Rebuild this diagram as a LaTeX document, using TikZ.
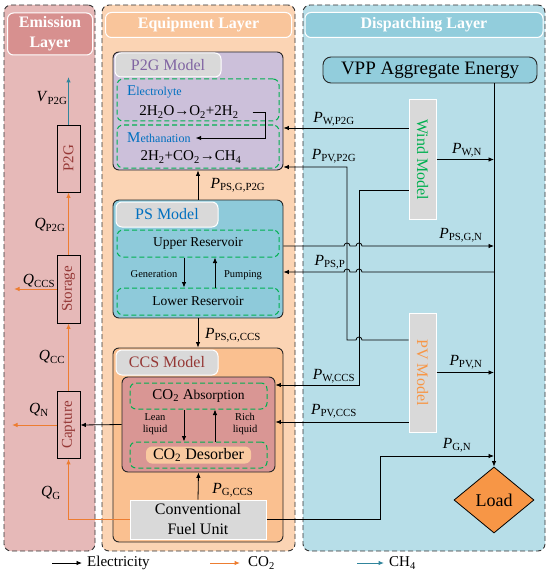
\documentclass[tikz,border=0pt]{standalone}
\usepackage{fontspec}
\setmainfont{Liberation Serif}
\usetikzlibrary{arrows.meta,shapes.geometric}

\definecolor{emisbg}{HTML}{E6B9B8}
\definecolor{emishd}{HTML}{D7908F}
\definecolor{equipbg}{HTML}{FBD4B4}
\definecolor{equiphd}{HTML}{F9C59B}
\definecolor{dispbg}{HTML}{B7DEE8}
\definecolor{disphd}{HTML}{92CDDC}
\definecolor{p2gfill}{HTML}{CCC0DA}
\definecolor{psfill}{HTML}{8ECADA}
\definecolor{ccsfill}{HTML}{FAC090}
\definecolor{ccsinner}{HTML}{D99694}
\definecolor{desfill}{HTML}{F9C9A0}
\definecolor{tabgray}{HTML}{D9D9D9}
\definecolor{dashgreen}{HTML}{00B050}
\definecolor{co2col}{HTML}{ED7D31}
\definecolor{ch4col}{HTML}{31859C}
\definecolor{loadcol}{HTML}{F79646}
\definecolor{darkred}{HTML}{953735}
\definecolor{purp}{HTML}{8064A2}
\definecolor{blu}{HTML}{0070C0}

\newcommand{\fsz}[1]{\fontsize{#1}{#1}\selectfont}
\newcommand{\vsym}[2]{\textit{#1}\textsubscript{#2}}

\tikzset{
  layer/.style={draw=black!80, line width=0.9pt, dash pattern=on 5pt off 3pt,
    rounded corners=7pt, inner sep=0pt, minimum height=546pt},
  header/.style={draw=white, line width=1pt, rounded corners=6pt, inner sep=0pt,
    text=white, font=\fsz{16}\bfseries, align=center},
  model/.style={draw=black!85, line width=0.9pt, rounded corners=6pt, inner sep=0pt,
    minimum width=170pt},
  tab/.style={fill=tabgray, draw=white, line width=1pt, rounded corners=6pt,
    inner sep=0pt, font=\fsz{16}},
  part/.style={draw=dashgreen, line width=1pt, dash pattern=on 5pt off 3pt,
    rounded corners=6pt, inner sep=0pt},
  grayunit/.style={fill=tabgray, draw=white, line width=1pt, inner sep=0pt},
  embox/.style={draw=black, line width=0.9pt, inner sep=0pt, minimum width=23pt,
    minimum height=67pt, text=darkred, font=\fsz{15}},
  elec/.style={draw=black, line width=0.8pt, -{Latex[length=5.5pt,width=4.5pt]}},
  co2/.style={draw=co2col, line width=1pt, -{Latex[length=5.5pt,width=4.5pt]}},
  ch4/.style={draw=ch4col, line width=1pt, -{Latex[length=5.5pt,width=4.5pt]}},
  lbl/.style={inner sep=0pt, font=\fsz{15.5}},
  note/.style={inner sep=0pt, font=\fsz{10.5}, align=center},
}

\begin{document}
\begin{tikzpicture}[x=1pt,y=-1pt]
\useasboundingbox (0,0) rectangle (550,575);

%Layers
\node[layer, fill=emisbg, minimum width=91pt] (emis) at (49.5,278) {};
\node[layer, fill=equipbg, minimum width=193pt] (equip) at (198.5,278) {};
\node[layer, fill=dispbg, minimum width=242pt] (disp) at (424,278) {};
\node[header, fill=emishd, minimum width=85pt, minimum height=42pt] (emishead) at (50,34) {Emission\\[4pt]Layer};
\node[header, fill=equiphd, minimum width=186pt, minimum height=25pt] (equiphead) at (198.5,25) {Equipment Layer};
\node[header, fill=disphd, minimum width=238pt, minimum height=25pt] (disphead) at (424,25) {Dispatching Layer};

%P2G model
\node[model, fill=p2gfill, minimum height=118pt] (p2gm) at (198,111) {};
\node[tab, text=purp, minimum width=106pt, minimum height=24pt] (p2gtab) at (168,65) {P2G Model};
\node[part, minimum width=162pt, minimum height=42pt] (elyz) at (198,100) {};
\node[part, minimum width=162pt, minimum height=43pt] (meth) at (198,146.5) {};
\node[anchor=west, inner sep=0pt, text=blu] (elyzt) at (127,92) {{\fsz{15}E}{\fsz{12}lectrolyte}};
\node[inner sep=0pt, font=\fsz{15}] (elyzr) at (189,112) {2H\textsubscript{2}O→O\textsubscript{2}+2H\textsubscript{2}};
\node[anchor=west, inner sep=0pt, text=blu] (metht) at (127,138) {{\fsz{15}M}{\fsz{12}ethanation}};
\node[inner sep=0pt, font=\fsz{15}] (methr) at (191,157) {2H\textsubscript{2}+CO\textsubscript{2}→CH\textsubscript{4}};
\draw[elec] ([xshift=14pt]elyzr.east) -- ++(13,0) |- ([xshift=5pt]metht.east);

%PS model
\node[model, fill=psfill, minimum height=118pt] (psm) at (198,259) {};
\node[tab, text=blu, minimum width=102pt, minimum height=25pt] (pstab) at (167,214.5) {PS Model};
\node[part, minimum width=162pt, minimum height=27pt, font=\fsz{13.5}] (upres) at (198,243.5) {Upper Reservoir};
\node[part, minimum width=162pt, minimum height=27pt, font=\fsz{13.5}] (lowres) at (198,301.5) {Lower Reservoir};
\draw[elec] ([xshift=-14pt]upres.south) -- ([xshift=-14pt]lowres.north);
\draw[elec] ([xshift=17pt]lowres.north) -- ([xshift=17pt]upres.south);
\node[note] (gen) at (154,274) {Generation};
\node[note] (pump) at (243,275) {Pumping};

%CCS model
\node[model, fill=ccsfill, minimum height=194pt] (ccsm) at (198,445) {};
\node[tab, text=darkred, minimum width=102pt, minimum height=25pt] (ccstab) at (167,362.5) {CCS Model};
\node[model, fill=ccsinner, minimum width=153pt, minimum height=95pt] (ccsin) at (198.5,424.5) {};
\node[part, minimum width=137pt, minimum height=26pt, font=\fsz{15}] (absb) at (198.5,396) {CO\textsubscript{2} A{\fsz{13.5}bsorption}};
\node[part, minimum width=137pt, minimum height=26pt] (desb) at (198.5,455) {};
\node[fill=desfill, rounded corners=6pt, minimum width=105pt, minimum height=17pt, inner sep=0pt, font=\fsz{16}] (dest) at (198.5,455) {CO\textsubscript{2} Desorber};
\draw[elec] ([xshift=-14.5pt]absb.south) -- ([xshift=-14.5pt]desb.north);
\draw[elec] ([xshift=16.5pt]desb.north) -- ([xshift=16.5pt]absb.south);
\node[note] (lean) at (155,424) {Lean\\[1.5pt]liquid};
\node[note] (rich) at (245,424) {Rich\\[1.5pt]liquid};
\node[grayunit, minimum width=136pt, minimum height=39pt, font=\fsz{16}, align=center] (fuel) at (198,519.5) {Conventional\\[4pt]Fuel Unit};

%equipment connectors
\draw[elec] (psm.north) -- (p2gm.south);
\draw[elec] (psm.south) -- (ccsm.north);
\draw[elec] (fuel.north) -- (ccsin.south);
\node[lbl] (lpsgp) at (238,185) {\vsym{P}{PS,G,P2G}};
\node[lbl] (lpsgc) at (233,335) {\vsym{P}{PS,G,CCS}};
\node[lbl] (lgc) at (233,490) {\vsym{P}{G,CCS}};

%Emission layer
\node[embox] (p2g) at (68.5,158.5) {\rotatebox{90}{P2G}};
\node[embox, minimum height=68pt] (stor) at (68.5,289) {\rotatebox{90}{Storage}};
\node[embox] (capt) at (68.5,425) {\rotatebox{90}{Capture}};
\coordinate (vout) at (68.5,77);
\coordinate (ccsout) at (14,289);
\coordinate (nout) at (12,425);
\draw[ch4] (p2g.north) -- (vout);
\draw[co2] (stor.north) -- (p2g.south);
\draw[co2] (stor.west) -- (ccsout);
\draw[co2] (capt.north) -- (stor.south);
\draw[co2] (capt.west) -- (nout);
\draw[co2] (fuel.west) -| (capt.south);
\draw[elec] (ccsin.west) -- (capt.east);
\node[lbl] (lv) at (52,98) {\vsym{V}{P2G}};
\node[lbl] (lqp) at (50,225) {\vsym{Q}{P2G}};
\node[lbl] (lqccs) at (39,281) {\vsym{Q}{CCS}};
\node[lbl] (lqcc) at (52,357) {\vsym{Q}{CC}};
\node[lbl] (lqn) at (39,410) {\vsym{Q}{N}};
\node[lbl] (lqg) at (51,493) {\vsym{Q}{G}};

%Dispatching layer
\node[model, fill=disphd, rounded corners=8pt, minimum width=214pt, minimum height=26pt, font=\fsz{19}] (vpp) at (430,70) {VPP Aggregate Energy};
\node[grayunit, minimum width=27pt, minimum height=119pt, text=dashgreen, font=\fsz{16}] (wind) at (422.5,159.5) {\rotatebox{-90}{Wind Model}};
\node[grayunit, minimum width=27pt, minimum height=119pt, text=loadcol, font=\fsz{16}] (pv) at (422.5,372.5) {\rotatebox{-90}{PV Model}};
\node[diamond, draw=black, line width=0.8pt, fill=loadcol, minimum width=80pt, minimum height=66pt, inner sep=0pt, font=\fsz{18}] (load) at (494,500) {Load};

%dispatching connectors
\draw[elec] (vpp.south -| load.north) -- (load.north);
\draw[elec] (wind.east) -- (wind.east -| load.north);
\draw[elec] (pv.east) -- (pv.east -| load.north);
\draw[elec] (wind.west |- 0,128) -- (p2gm.east |- 0,128);
\draw[elec] (pv.west |- 0,340) -- (362,340) arc[start angle=0,end angle=-180,radius=3] -- (347,340) -- (347,167) -- (p2gm.east |- 0,167);
\draw[elec] (wind.west |- 0,190) -- (359,190) -- (359,385) -- (ccsin.east |- 0,385);
\draw[elec] (psm.east |- 0,246) -- (344,246) arc[start angle=180,end angle=360,radius=3] -- (356,246) arc[start angle=180,end angle=360,radius=3] -- (load.north |- 0,246);
\draw[elec] (load.north |- 0,272) -- (362,272) arc[start angle=0,end angle=-180,radius=3] -- (350,272) arc[start angle=0,end angle=-180,radius=3] -- (psm.east |- 0,272);
\draw[elec] (pv.west |- 0,422) -- (ccsin.east |- 0,422);
\draw[elec] (fuel.east) -| (380,456) -- (load.north |- 0,456);

%labels
\node[lbl] (lwp) at (334,119) {\vsym{P}{W,P2G}};
\node[lbl] (lpvp) at (334,156) {\vsym{P}{PV,P2G}};
\node[lbl] (lwn) at (467,150) {\vsym{P}{W,N}};
\node[lbl] (lpsn) at (461,235) {\vsym{P}{PS,G,N}};
\node[lbl] (lpsp) at (330,262) {\vsym{P}{PS,P}};
\node[lbl] (lwc) at (334,376) {\vsym{P}{W,CCS}};
\node[lbl] (lpvn) at (466,362) {\vsym{P}{PV,N}};
\node[lbl] (lpvc) at (334,411) {\vsym{P}{PV,CCS}};
\node[lbl] (lgn) at (457,445) {\vsym{P}{G,N}};

%legend
\node[anchor=west, inner sep=0pt, font=\fsz{15}] (lgel) at (87,563) {Electricity};
\node[anchor=west, inner sep=0pt, font=\fsz{15}] (lgco) at (248,563) {CO\textsubscript{2}};
\node[anchor=west, inner sep=0pt, font=\fsz{15}] (lgch) at (389,563) {CH\textsubscript{4}};
\draw[elec] ([xshift=-35pt]lgel.west) -- ([xshift=-5pt]lgel.west);
\draw[co2] ([xshift=-38pt]lgco.west) -- ([xshift=-8pt]lgco.west);
\draw[ch4] ([xshift=-32pt]lgch.west) -- ([xshift=-5pt]lgch.west);
\end{tikzpicture}
\end{document}
